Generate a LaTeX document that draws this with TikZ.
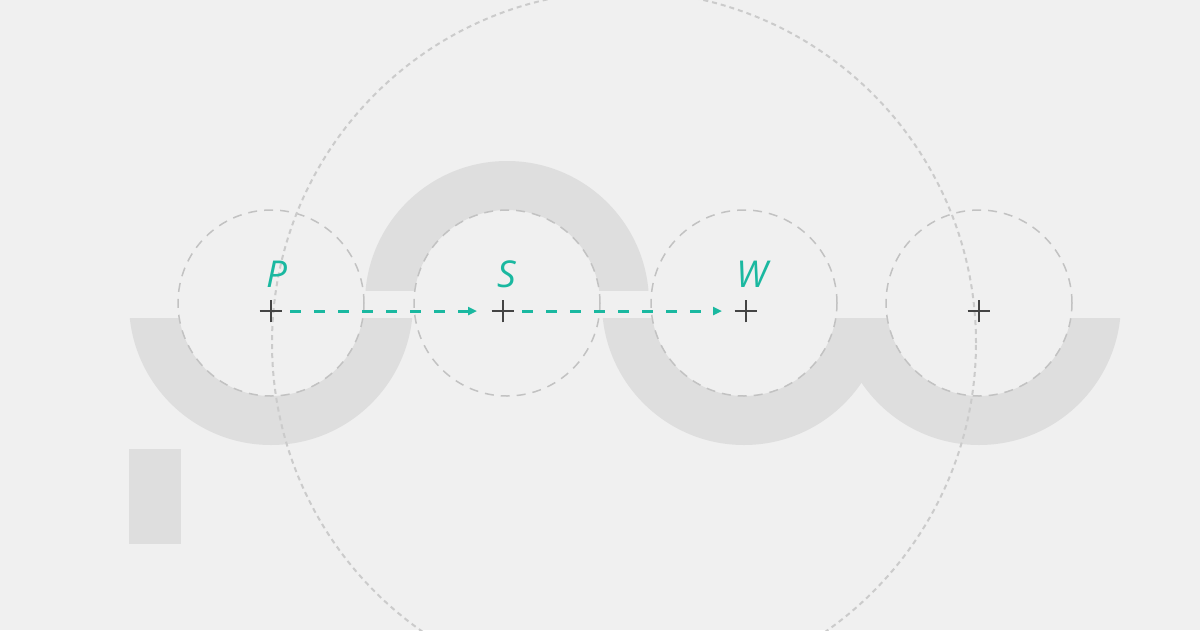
\documentclass[tikz,border=0pt]{standalone}
\usepackage{fontspec}
\newfontfamily\labelfont{Open Sans}
\usetikzlibrary{arrows.meta,shapes.misc}
\definecolor{bg}{HTML}{F0F0F0}
\definecolor{band}{HTML}{DEDEDE}
\definecolor{guide}{HTML}{C2C2C2}
\definecolor{bigguide}{HTML}{CBCBCB}
\definecolor{accent}{HTML}{1AB8A0}
\definecolor{markc}{HTML}{444444}
\begin{document}
\begin{tikzpicture}[x=1pt,y=-1pt,
 guidecircle/.style={draw=guide,line width=1.5pt,dash pattern=on 9pt off 7pt},
 bigcircle/.style={draw=bigguide,line width=2pt,dash pattern=on 5pt off 4pt},
 centremark/.style={cross out,draw=markc,line width=2pt,rotate=45,minimum size=14pt,inner sep=0pt},
 flow/.style={draw=accent,line width=3pt,dash pattern=on 11pt off 13pt,-{Triangle[length=9pt,width=8pt]}},
 tag/.style={text=accent,font=\labelfont\itshape\fontsize{37pt}{40pt}\selectfont,anchor=base,inner sep=0pt}]
\fill[bg] (0,0) rectangle (1200,630);
\useasboundingbox (0,0) rectangle (1200,630);
% lower bands
\begin{scope}
\clip (0,318) rectangle (1200,630);
\fill[band,even odd rule] (271,303) circle (142pt) (271,303) circle (93pt);
\fill[band,even odd rule] (744,303) circle (142pt) (744,303) circle (93pt);
\fill[band,even odd rule] (979,303) circle (142pt) (979,303) circle (93pt);
\end{scope}
% upper band
\begin{scope}
\clip (0,0) rectangle (1200,290);
\fill[band,even odd rule] (507,303) circle (142pt) (507,303) circle (93pt);
\end{scope}
\fill[band] (129,449) rectangle (181,544);
% guide circles
\draw[guidecircle] (271,303) circle (93pt);
\draw[guidecircle] (507,303) circle (93pt);
\draw[guidecircle] (744,303) circle (93pt);
\draw[guidecircle] (979,303) circle (93pt);
\draw[bigcircle] (624,343) circle (352pt);
% centres
\node[centremark] (P) at (271,311) {};
\node[centremark] (S) at (503,311) {};
\node[centremark] (W) at (746,311) {};
\node[centremark] (Q) at (979,311) {};
% arrows
\draw[flow,shorten <=19pt,shorten >=26pt] (P.center) -- (S.center);
\draw[flow,shorten <=19pt,shorten >=24pt] (S.center) -- (W.center);
% labels
\node[tag] (lP) at (277,287) {P};
\node[tag] (lS) at (507,287) {S};
\node[tag] (lW) at (752,287) {W};
\end{tikzpicture}
\end{document}
